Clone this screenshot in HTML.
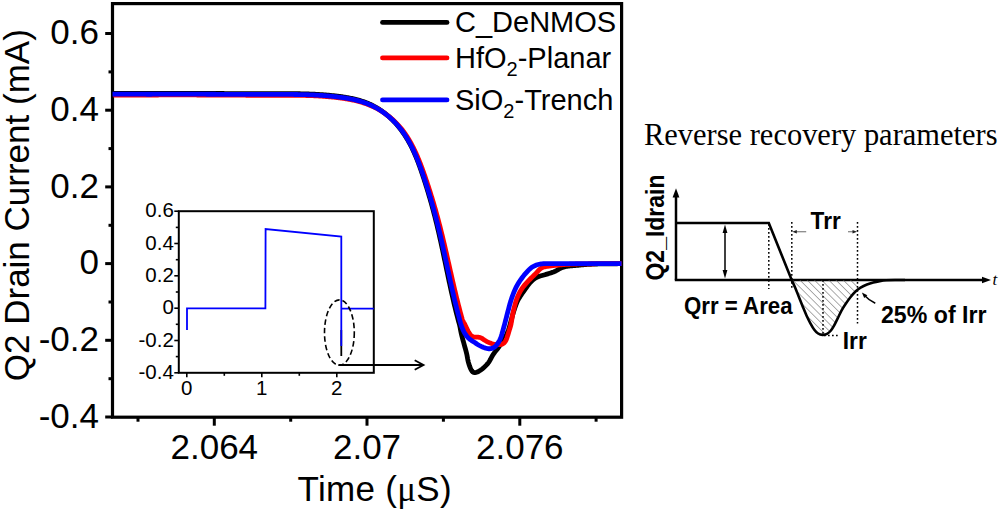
<!DOCTYPE html>
<html><head><meta charset="utf-8"><style>
html,body{margin:0;padding:0;background:#fff;}
svg{display:block;}
</style></head><body>
<svg width="1000" height="511" viewBox="0 0 1000 511">
<rect width="1000" height="511" fill="#fff"/>
<rect x="112.5" y="3.6" width="509.1" height="413.6" fill="none" stroke="#000" stroke-width="3.2"/>
<line x1="105.2" y1="33.5" x2="112.5" y2="33.5" stroke="#000" stroke-width="3"/>
<line x1="108.5" y1="71.9" x2="112.5" y2="71.9" stroke="#000" stroke-width="3"/>
<line x1="105.2" y1="110.2" x2="112.5" y2="110.2" stroke="#000" stroke-width="3"/>
<line x1="108.5" y1="148.6" x2="112.5" y2="148.6" stroke="#000" stroke-width="3"/>
<line x1="105.2" y1="186.9" x2="112.5" y2="186.9" stroke="#000" stroke-width="3"/>
<line x1="108.5" y1="225.3" x2="112.5" y2="225.3" stroke="#000" stroke-width="3"/>
<line x1="105.2" y1="263.6" x2="112.5" y2="263.6" stroke="#000" stroke-width="3"/>
<line x1="108.5" y1="302.0" x2="112.5" y2="302.0" stroke="#000" stroke-width="3"/>
<line x1="105.2" y1="340.3" x2="112.5" y2="340.3" stroke="#000" stroke-width="3"/>
<line x1="108.5" y1="378.7" x2="112.5" y2="378.7" stroke="#000" stroke-width="3"/>
<line x1="105.2" y1="417.0" x2="112.5" y2="417.0" stroke="#000" stroke-width="3"/>
<text x="99" y="44.2" font-family="Liberation Sans, sans-serif" font-size="35" text-anchor="end">0.6</text>
<text x="99" y="120.9" font-family="Liberation Sans, sans-serif" font-size="35" text-anchor="end">0.4</text>
<text x="99" y="197.6" font-family="Liberation Sans, sans-serif" font-size="35" text-anchor="end">0.2</text>
<text x="99" y="274.3" font-family="Liberation Sans, sans-serif" font-size="35" text-anchor="end">0</text>
<text x="99" y="351.0" font-family="Liberation Sans, sans-serif" font-size="35" text-anchor="end">-0.2</text>
<text x="99" y="427.7" font-family="Liberation Sans, sans-serif" font-size="35" text-anchor="end">-0.4</text>
<line x1="138.0" y1="417.2" x2="138.0" y2="421.7" stroke="#000" stroke-width="3"/>
<line x1="214.3" y1="417.2" x2="214.3" y2="425.7" stroke="#000" stroke-width="3"/>
<line x1="290.7" y1="417.2" x2="290.7" y2="421.7" stroke="#000" stroke-width="3"/>
<line x1="367.0" y1="417.2" x2="367.0" y2="425.7" stroke="#000" stroke-width="3"/>
<line x1="443.4" y1="417.2" x2="443.4" y2="421.7" stroke="#000" stroke-width="3"/>
<line x1="519.8" y1="417.2" x2="519.8" y2="425.7" stroke="#000" stroke-width="3"/>
<line x1="596.1" y1="417.2" x2="596.1" y2="421.7" stroke="#000" stroke-width="3"/>
<text x="214.3" y="459" font-family="Liberation Sans, sans-serif" font-size="35" text-anchor="middle">2.064</text>
<text x="367.0" y="459" font-family="Liberation Sans, sans-serif" font-size="35" text-anchor="middle">2.07</text>
<text x="519.8" y="459" font-family="Liberation Sans, sans-serif" font-size="35" text-anchor="middle">2.076</text>
<text x="374.6" y="500.8" font-family="Liberation Sans, sans-serif" font-size="35" text-anchor="middle" textLength="154" lengthAdjust="spacing">Time (<tspan font-family="Liberation Serif, serif">μ</tspan>S)</text>
<text transform="translate(29.3,205.2) rotate(-90)" font-family="Liberation Sans, sans-serif" font-size="35" text-anchor="middle">Q2 Drain Current (mA)</text>
<g fill="none" stroke-width="4.8" stroke-linejoin="round" stroke-linecap="butt">
<path d="M112.10,93.40 L113.10,93.40 L114.10,93.40 L115.10,93.40 L116.10,93.40 L117.10,93.40 L118.10,93.40 L119.10,93.41 L120.10,93.41 L121.10,93.41 L122.10,93.41 L123.10,93.41 L124.10,93.41 L125.10,93.41 L126.10,93.41 L127.10,93.41 L128.10,93.41 L129.10,93.41 L130.10,93.41 L131.10,93.41 L132.10,93.42 L133.10,93.42 L134.10,93.42 L135.10,93.42 L136.10,93.42 L137.10,93.42 L138.10,93.42 L139.10,93.42 L140.10,93.42 L141.10,93.42 L142.10,93.42 L143.10,93.42 L144.10,93.42 L145.10,93.42 L146.10,93.43 L147.10,93.43 L148.10,93.43 L149.10,93.43 L150.10,93.43 L151.05,93.43 L151.85,93.42 L152.37,93.42 L152.73,93.41 L153.21,93.40 L153.97,93.40 L154.90,93.39 L155.89,93.38 L156.89,93.38 L157.89,93.37 L158.89,93.37 L159.89,93.36 L160.89,93.36 L161.89,93.35 L162.89,93.35 L163.89,93.35 L164.89,93.34 L165.89,93.34 L166.89,93.34 L167.89,93.34 L168.89,93.34 L169.89,93.33 L170.89,93.33 L171.89,93.33 L172.89,93.33 L173.89,93.33 L174.89,93.33 L175.89,93.33 L176.89,93.33 L177.89,93.33 L178.89,93.33 L179.89,93.33 L180.89,93.34 L181.89,93.34 L182.89,93.34 L183.89,93.34 L184.89,93.34 L185.89,93.35 L186.89,93.35 L187.89,93.35 L188.89,93.35 L189.89,93.36 L190.89,93.36 L191.89,93.36 L192.89,93.37 L193.89,93.37 L194.89,93.37 L195.89,93.38 L196.89,93.38 L197.89,93.39 L198.89,93.39 L199.89,93.40 L200.89,93.40 L201.89,93.41 L202.89,93.41 L203.89,93.42 L204.89,93.42 L205.89,93.43 L206.89,93.43 L207.89,93.44 L208.89,93.44 L209.89,93.45 L210.89,93.45 L211.89,93.46 L212.89,93.46 L213.89,93.47 L214.89,93.47 L215.89,93.48 L216.89,93.49 L217.89,93.49 L218.89,93.50 L219.89,93.50 L220.89,93.51 L221.89,93.51 L222.89,93.52 L223.89,93.52 L224.89,93.53 L225.89,93.54 L226.89,93.54 L227.89,93.55 L228.89,93.55 L229.89,93.56 L230.89,93.56 L231.89,93.57 L232.89,93.57 L233.89,93.58 L234.89,93.58 L235.89,93.59 L236.89,93.59 L237.89,93.60 L238.89,93.60 L239.89,93.61 L240.89,93.61 L241.89,93.61 L242.89,93.62 L243.89,93.62 L244.89,93.63 L245.89,93.63 L246.89,93.63 L247.89,93.64 L248.89,93.64 L249.89,93.64 L250.89,93.64 L251.89,93.65 L252.89,93.65 L253.89,93.65 L254.89,93.65 L255.89,93.66 L256.89,93.66 L257.89,93.66 L258.89,93.66 L259.89,93.66 L260.89,93.66 L261.89,93.66 L262.89,93.66 L263.89,93.66 L264.89,93.66 L265.89,93.66 L266.89,93.66 L267.89,93.66 L268.89,93.66 L269.89,93.66 L270.89,93.65 L271.89,93.65 L272.89,93.65 L273.89,93.65 L274.89,93.65 L275.89,93.64 L276.89,93.64 L277.89,93.64 L278.89,93.64 L279.89,93.64 L280.89,93.64 L281.89,93.63 L282.89,93.63 L283.89,93.63 L284.89,93.64 L285.89,93.64 L286.89,93.64 L287.89,93.64 L288.89,93.65 L289.89,93.65 L290.89,93.66 L291.89,93.66 L292.89,93.67 L293.89,93.68 L294.89,93.69 L295.89,93.70 L296.89,93.72 L297.89,93.73 L298.89,93.75 L299.89,93.77 L300.89,93.78 L301.89,93.81 L302.89,93.83 L303.89,93.85 L304.89,93.88 L305.89,93.91 L306.89,93.94 L307.89,93.97 L308.89,94.00 L309.89,94.04 L310.89,94.08 L311.89,94.12 L312.88,94.16 L313.88,94.21 L314.88,94.26 L315.88,94.31 L316.88,94.36 L317.88,94.42 L318.88,94.48 L319.87,94.54 L320.87,94.61 L321.87,94.67 L322.87,94.75 L323.86,94.82 L324.86,94.90 L325.86,94.98 L326.85,95.06 L327.85,95.15 L328.85,95.24 L329.84,95.33 L330.84,95.43 L331.83,95.53 L332.83,95.63 L333.82,95.74 L334.82,95.85 L335.81,95.96 L336.80,96.08 L337.79,96.21 L338.79,96.33 L339.78,96.46 L340.77,96.60 L341.76,96.74 L342.75,96.89 L343.74,97.04 L344.72,97.19 L345.71,97.35 L346.70,97.52 L347.68,97.70 L348.66,97.88 L349.65,98.06 L350.63,98.26 L351.61,98.46 L352.58,98.67 L353.56,98.89 L354.53,99.11 L355.51,99.35 L356.48,99.59 L357.44,99.84 L358.41,100.11 L359.37,100.38 L360.33,100.66 L361.29,100.95 L362.24,101.25 L363.19,101.56 L364.14,101.89 L365.08,102.22 L366.02,102.57 L366.95,102.93 L367.88,103.30 L368.80,103.68 L369.72,104.08 L370.63,104.49 L371.53,104.92 L372.43,105.36 L373.32,105.82 L374.20,106.28 L375.08,106.76 L375.95,107.26 L376.82,107.76 L377.67,108.28 L378.52,108.80 L379.36,109.34 L380.20,109.89 L381.03,110.45 L381.85,111.02 L382.66,111.60 L383.47,112.19 L384.27,112.80 L385.06,113.41 L385.84,114.03 L386.62,114.66 L387.38,115.30 L388.14,115.95 L388.89,116.61 L389.64,117.28 L390.37,117.96 L391.10,118.64 L391.82,119.34 L392.53,120.04 L393.23,120.75 L393.93,121.47 L394.61,122.20 L395.29,122.94 L395.96,123.68 L396.62,124.43 L397.27,125.19 L397.91,125.96 L398.55,126.73 L399.17,127.51 L399.79,128.30 L400.39,129.09 L401.00,129.89 L401.59,130.69 L402.18,131.50 L402.77,132.31 L403.34,133.13 L403.91,133.96 L404.46,134.79 L405.01,135.62 L405.55,136.46 L406.09,137.31 L406.61,138.16 L407.13,139.02 L407.64,139.88 L408.14,140.74 L408.63,141.61 L409.12,142.48 L409.60,143.36 L410.07,144.24 L410.54,145.13 L410.99,146.02 L411.45,146.91 L411.89,147.80 L412.33,148.70 L412.76,149.61 L413.19,150.51 L413.60,151.42 L414.01,152.33 L414.42,153.25 L414.82,154.16 L415.21,155.08 L415.60,156.00 L415.98,156.93 L416.36,157.85 L416.74,158.78 L417.11,159.71 L417.47,160.64 L417.83,161.57 L418.19,162.51 L418.54,163.44 L418.89,164.38 L419.24,165.32 L419.58,166.26 L419.92,167.20 L420.25,168.14 L420.59,169.08 L420.92,170.03 L421.24,170.97 L421.57,171.92 L421.89,172.86 L422.21,173.81 L422.53,174.76 L422.85,175.71 L423.16,176.66 L423.47,177.61 L423.79,178.56 L424.09,179.51 L424.40,180.46 L424.71,181.41 L425.01,182.36 L425.32,183.32 L425.62,184.27 L425.92,185.22 L426.22,186.18 L426.51,187.13 L426.81,188.09 L427.10,189.04 L427.40,190.00 L427.69,190.96 L427.97,191.91 L428.26,192.87 L428.55,193.83 L428.83,194.79 L429.11,195.75 L429.39,196.71 L429.67,197.67 L429.95,198.63 L430.23,199.59 L430.50,200.55 L430.78,201.51 L431.05,202.48 L431.32,203.44 L431.58,204.40 L431.85,205.37 L432.12,206.33 L432.38,207.30 L432.64,208.26 L432.90,209.23 L433.16,210.19 L433.42,211.16 L433.67,212.13 L433.93,213.09 L434.18,214.06 L434.43,215.03 L434.68,216.00 L434.93,216.97 L435.17,217.94 L435.42,218.91 L435.66,219.88 L435.90,220.85 L436.14,221.82 L436.38,222.79 L436.62,223.76 L436.85,224.73 L437.09,225.70 L437.32,226.68 L437.55,227.65 L437.78,228.62 L438.01,229.60 L438.24,230.57 L438.46,231.54 L438.69,232.52 L438.91,233.49 L439.13,234.47 L439.35,235.44 L439.57,236.42 L439.79,237.39 L440.01,238.37 L440.23,239.35 L440.45,240.32 L440.66,241.30 L440.88,242.28 L441.09,243.25 L441.30,244.23 L441.51,245.21 L441.73,246.18 L441.94,247.16 L442.15,248.14 L442.36,249.12 L442.57,250.09 L442.77,251.07 L442.98,252.05 L443.19,253.03 L443.40,254.01 L443.60,254.99 L443.81,255.96 L444.01,256.94 L444.22,257.92 L444.42,258.90 L444.63,259.88 L444.83,260.86 L445.04,261.84 L445.24,262.82 L445.45,263.79 L445.65,264.77 L445.86,265.75 L446.06,266.73 L446.26,267.71 L446.47,268.69 L446.67,269.67 L446.88,270.65 L447.08,271.63 L447.29,272.60 L447.49,273.58 L447.70,274.56 L447.90,275.54 L448.11,276.52 L448.31,277.50 L448.52,278.48 L448.73,279.45 L448.94,280.43 L449.14,281.41 L449.35,282.39 L449.56,283.37 L449.77,284.34 L449.98,285.32 L450.19,286.30 L450.41,287.28 L450.62,288.25 L450.83,289.23 L451.05,290.21 L451.26,291.18 L451.48,292.16 L451.70,293.14 L451.91,294.11 L452.13,295.09 L452.35,296.06 L452.57,297.04 L452.80,298.01 L453.02,298.99 L453.24,299.96 L453.47,300.94 L453.70,301.91 L453.92,302.89 L454.15,303.86 L454.38,304.83 L454.62,305.80 L454.85,306.78 L455.09,307.75 L455.32,308.72 L455.56,309.69 L455.80,310.66 L456.04,311.63 L456.28,312.60 L456.53,313.57 L456.77,314.54 L457.02,315.51 L457.27,316.48 L457.52,317.45 L457.78,318.41 L458.03,319.38 L458.29,320.35 L458.55,321.31 L458.82,322.28 L459.08,323.24 L459.35,324.20 L459.60,325.17 L459.82,326.15 L460.01,327.12 L460.20,328.11 L460.38,329.09 L460.57,330.07 L460.76,331.05 L460.96,332.03 L461.17,333.01 L461.39,333.99 L461.62,334.96 L461.86,335.93 L462.11,336.90 L462.36,337.87 L462.62,338.83 L462.88,339.80 L463.15,340.76 L463.41,341.73 L463.68,342.69 L463.94,343.65 L464.21,344.62 L464.47,345.58 L464.74,346.55 L465.01,347.51 L465.28,348.47 L465.55,349.44 L465.81,350.40 L466.08,351.37 L466.33,352.33 L466.57,353.30 L466.79,354.28 L466.99,355.26 L467.18,356.24 L467.35,357.22 L467.53,358.21 L467.70,359.19 L467.90,360.17 L468.11,361.15 L468.35,362.12 L468.62,363.08 L468.91,364.04 L469.21,364.99 L469.53,365.94 L469.88,366.88 L470.25,367.80 L470.65,368.72 L471.09,369.61 L471.58,370.48 L472.14,371.28 L472.81,371.95 L473.61,372.41 L474.52,372.59 L475.47,372.54 L476.42,372.31 L477.35,371.97 L478.25,371.54 L479.12,371.07 L479.97,370.54 L480.80,369.98 L481.61,369.39 L482.39,368.78 L483.17,368.14 L483.92,367.49 L484.66,366.81 L485.38,366.12 L486.09,365.41 L486.77,364.69 L487.43,363.94 L488.06,363.16 L488.65,362.36 L489.20,361.52 L489.72,360.67 L490.21,359.80 L490.68,358.92 L491.14,358.03 L491.61,357.15 L492.08,356.27 L492.58,355.40 L493.11,354.55 L493.67,353.73 L494.26,352.92 L494.87,352.13 L495.49,351.35 L496.13,350.57 L496.75,349.80 L497.37,349.01 L497.97,348.21 L498.54,347.39 L499.10,346.56 L499.65,345.72 L500.19,344.88 L500.72,344.04 L501.25,343.19 L501.79,342.35 L502.33,341.50 L502.88,340.67 L503.43,339.83 L503.98,339.00 L504.51,338.15 L505.03,337.29 L505.52,336.43 L506.00,335.55 L506.46,334.66 L506.90,333.76 L507.32,332.86 L507.72,331.94 L508.10,331.02 L508.45,330.08 L508.77,329.13 L509.07,328.18 L509.35,327.22 L509.62,326.26 L509.87,325.29 L510.13,324.32 L510.38,323.36 L510.63,322.39 L510.89,321.42 L511.15,320.46 L511.41,319.49 L511.67,318.53 L511.93,317.56 L512.19,316.59 L512.46,315.63 L512.72,314.67 L513.00,313.71 L513.28,312.75 L513.58,311.79 L513.88,310.84 L514.19,309.89 L514.51,308.94 L514.84,308.00 L515.18,307.05 L515.51,306.11 L515.84,305.17 L516.18,304.23 L516.53,303.29 L516.91,302.37 L517.31,301.45 L517.75,300.55 L518.22,299.67 L518.71,298.80 L519.22,297.94 L519.75,297.10 L520.30,296.26 L520.85,295.42 L521.41,294.59 L521.97,293.77 L522.54,292.95 L523.11,292.13 L523.68,291.31 L524.26,290.49 L524.83,289.67 L525.41,288.85 L525.99,288.04 L526.58,287.23 L527.17,286.42 L527.77,285.62 L528.38,284.83 L529.00,284.05 L529.64,283.28 L530.30,282.53 L530.98,281.79 L531.68,281.08 L532.41,280.40 L533.16,279.74 L533.94,279.12 L534.74,278.53 L535.58,277.98 L536.44,277.48 L537.33,277.04 L538.25,276.67 L539.20,276.35 L540.16,276.07 L541.12,275.79 L542.08,275.51 L543.04,275.23 L544.00,274.96 L544.96,274.69 L545.93,274.41 L546.89,274.14 L547.85,273.85 L548.80,273.56 L549.75,273.26 L550.71,272.95 L551.65,272.64 L552.60,272.31 L553.54,271.97 L554.47,271.60 L555.38,271.20 L556.27,270.74 L557.12,270.23 L557.97,269.70 L558.81,269.17 L559.68,268.68 L560.57,268.24 L561.49,267.84 L562.42,267.49 L563.37,267.17 L564.33,266.88 L565.30,266.64 L566.27,266.43 L567.26,266.26 L568.25,266.13 L569.24,266.01 L570.24,265.92 L571.23,265.84 L572.23,265.77 L573.23,265.70 L574.23,265.64 L575.22,265.56 L576.22,265.48 L577.21,265.38 L578.21,265.27 L579.20,265.16 L580.20,265.05 L581.19,264.94 L582.18,264.84 L583.18,264.75 L584.18,264.67 L585.17,264.59 L586.17,264.53 L587.17,264.46 L588.17,264.40 L589.17,264.34 L590.16,264.29 L591.16,264.24 L592.16,264.19 L593.16,264.14 L594.16,264.10 L595.16,264.06 L596.16,264.02 L597.16,263.98 L598.16,263.95 L599.16,263.92 L600.16,263.90 L601.16,263.88 L602.16,263.86 L603.16,263.84 L604.16,263.83 L605.16,263.81 L606.16,263.80 L607.16,263.79 L608.16,263.78 L609.16,263.78 L610.16,263.77 L611.16,263.76 L612.16,263.75 L613.16,263.75 L614.16,263.74 L615.16,263.74 L616.16,263.73 L617.16,263.73 L618.15,263.72 L619.15,263.72 L620.15,263.71 L621.14,263.70 L621.60,263.70" stroke="#000"/>
<path d="M113.30,95.00 L114.30,95.00 L115.30,95.00 L116.30,95.00 L117.30,95.00 L118.30,95.00 L119.30,95.00 L120.30,95.01 L121.30,95.01 L122.30,95.01 L123.30,95.01 L124.30,95.01 L125.30,95.01 L126.30,95.01 L127.30,95.01 L128.30,95.01 L129.30,95.01 L130.30,95.01 L131.30,95.01 L132.30,95.01 L133.30,95.02 L134.30,95.02 L135.30,95.02 L136.30,95.02 L137.30,95.02 L138.30,95.02 L139.30,95.02 L140.30,95.02 L141.30,95.02 L142.30,95.02 L143.30,95.02 L144.30,95.02 L145.30,95.02 L146.30,95.02 L147.30,95.03 L148.30,95.03 L149.30,95.03 L150.30,95.03 L151.30,95.03 L152.25,95.03 L153.05,95.02 L153.57,95.02 L153.93,95.01 L154.41,95.00 L155.17,95.00 L156.10,94.99 L157.09,94.98 L158.09,94.98 L159.09,94.97 L160.09,94.97 L161.09,94.96 L162.09,94.96 L163.09,94.95 L164.09,94.95 L165.09,94.95 L166.09,94.94 L167.09,94.94 L168.09,94.94 L169.09,94.94 L170.09,94.94 L171.09,94.93 L172.09,94.93 L173.09,94.93 L174.09,94.93 L175.09,94.93 L176.09,94.93 L177.09,94.93 L178.09,94.93 L179.09,94.93 L180.09,94.93 L181.09,94.93 L182.09,94.94 L183.09,94.94 L184.09,94.94 L185.09,94.94 L186.09,94.94 L187.09,94.95 L188.09,94.95 L189.09,94.95 L190.09,94.95 L191.09,94.96 L192.09,94.96 L193.09,94.96 L194.09,94.97 L195.09,94.97 L196.09,94.97 L197.09,94.98 L198.09,94.98 L199.09,94.99 L200.09,94.99 L201.09,95.00 L202.09,95.00 L203.09,95.01 L204.09,95.01 L205.09,95.02 L206.09,95.02 L207.09,95.03 L208.09,95.03 L209.09,95.04 L210.09,95.04 L211.09,95.05 L212.09,95.05 L213.09,95.06 L214.09,95.06 L215.09,95.07 L216.09,95.07 L217.09,95.08 L218.09,95.09 L219.09,95.09 L220.09,95.10 L221.09,95.10 L222.09,95.11 L223.09,95.11 L224.09,95.12 L225.09,95.12 L226.09,95.13 L227.09,95.14 L228.09,95.14 L229.09,95.15 L230.09,95.15 L231.09,95.16 L232.09,95.16 L233.09,95.17 L234.09,95.17 L235.09,95.18 L236.09,95.18 L237.09,95.19 L238.09,95.19 L239.09,95.20 L240.09,95.20 L241.09,95.21 L242.09,95.21 L243.09,95.21 L244.09,95.22 L245.09,95.22 L246.09,95.23 L247.09,95.23 L248.09,95.23 L249.09,95.24 L250.09,95.24 L251.09,95.24 L252.09,95.24 L253.09,95.25 L254.09,95.25 L255.09,95.25 L256.09,95.25 L257.09,95.26 L258.09,95.26 L259.09,95.26 L260.09,95.26 L261.09,95.26 L262.09,95.26 L263.09,95.26 L264.09,95.26 L265.09,95.26 L266.09,95.26 L267.09,95.26 L268.09,95.26 L269.09,95.26 L270.09,95.26 L271.09,95.26 L272.09,95.25 L273.09,95.25 L274.09,95.25 L275.09,95.25 L276.09,95.25 L277.09,95.24 L278.09,95.24 L279.09,95.24 L280.09,95.24 L281.09,95.24 L282.09,95.24 L283.09,95.23 L284.09,95.23 L285.09,95.23 L286.09,95.24 L287.09,95.24 L288.09,95.24 L289.09,95.24 L290.09,95.25 L291.09,95.25 L292.09,95.26 L293.09,95.26 L294.09,95.27 L295.09,95.28 L296.09,95.29 L297.09,95.30 L298.09,95.32 L299.09,95.33 L300.09,95.35 L301.09,95.37 L302.09,95.38 L303.09,95.41 L304.09,95.43 L305.09,95.45 L306.09,95.48 L307.09,95.51 L308.09,95.54 L309.09,95.57 L310.09,95.60 L311.09,95.64 L312.09,95.68 L313.09,95.72 L314.08,95.76 L315.08,95.81 L316.08,95.86 L317.08,95.91 L318.08,95.96 L319.08,96.02 L320.08,96.08 L321.07,96.14 L322.07,96.21 L323.07,96.27 L324.07,96.35 L325.06,96.42 L326.06,96.50 L327.06,96.58 L328.05,96.66 L329.05,96.75 L330.05,96.84 L331.04,96.93 L332.04,97.03 L333.03,97.13 L334.03,97.23 L335.02,97.34 L336.02,97.45 L337.01,97.56 L338.00,97.68 L338.99,97.81 L339.99,97.93 L340.98,98.06 L341.97,98.20 L342.96,98.34 L343.95,98.49 L344.94,98.64 L345.92,98.79 L346.91,98.95 L347.90,99.12 L348.88,99.30 L349.86,99.48 L350.85,99.66 L351.83,99.86 L352.81,100.06 L353.78,100.27 L354.76,100.49 L355.73,100.71 L356.71,100.95 L357.68,101.19 L358.64,101.44 L359.61,101.71 L360.57,101.98 L361.53,102.26 L362.49,102.55 L363.44,102.85 L364.39,103.16 L365.34,103.49 L366.28,103.82 L367.22,104.17 L368.15,104.53 L369.08,104.90 L370.00,105.28 L370.92,105.67 L371.84,106.07 L372.75,106.48 L373.66,106.90 L374.56,107.33 L375.45,107.78 L376.34,108.24 L377.23,108.71 L378.10,109.19 L378.97,109.68 L379.84,110.19 L380.69,110.70 L381.54,111.23 L382.39,111.76 L383.23,112.31 L384.06,112.86 L384.88,113.43 L385.70,114.01 L386.50,114.60 L387.31,115.19 L388.10,115.80 L388.89,116.42 L389.67,117.05 L390.44,117.68 L391.20,118.33 L391.96,118.98 L392.70,119.65 L393.44,120.32 L394.18,121.00 L394.90,121.69 L395.61,122.39 L396.32,123.10 L397.02,123.81 L397.71,124.54 L398.39,125.27 L399.06,126.01 L399.72,126.76 L400.38,127.52 L401.02,128.28 L401.66,129.05 L402.28,129.83 L402.89,130.63 L403.49,131.43 L404.08,132.23 L404.66,133.05 L405.23,133.87 L405.80,134.69 L406.35,135.53 L406.90,136.36 L407.43,137.21 L407.97,138.05 L408.49,138.91 L409.00,139.76 L409.51,140.63 L410.01,141.49 L410.50,142.36 L410.99,143.24 L411.47,144.11 L411.94,145.00 L412.40,145.88 L412.86,146.77 L413.31,147.66 L413.76,148.56 L414.20,149.45 L414.63,150.36 L415.06,151.26 L415.48,152.17 L415.90,153.08 L416.31,153.99 L416.72,154.90 L417.12,155.82 L417.51,156.73 L417.90,157.66 L418.29,158.58 L418.67,159.50 L419.05,160.43 L419.42,161.36 L419.79,162.28 L420.16,163.21 L420.52,164.15 L420.88,165.08 L421.23,166.02 L421.59,166.95 L421.93,167.89 L422.28,168.83 L422.62,169.77 L422.96,170.71 L423.30,171.65 L423.64,172.59 L423.97,173.53 L424.30,174.48 L424.63,175.42 L424.96,176.37 L425.28,177.31 L425.61,178.26 L425.93,179.20 L426.25,180.15 L426.57,181.10 L426.89,182.05 L427.20,183.00 L427.52,183.95 L427.83,184.89 L428.14,185.84 L428.45,186.80 L428.76,187.75 L429.07,188.70 L429.37,189.65 L429.68,190.60 L429.98,191.56 L430.28,192.51 L430.58,193.47 L430.87,194.42 L431.17,195.38 L431.46,196.33 L431.76,197.29 L432.05,198.24 L432.34,199.20 L432.63,200.16 L432.91,201.12 L433.20,202.07 L433.49,203.03 L433.77,203.99 L434.05,204.95 L434.33,205.91 L434.61,206.87 L434.89,207.83 L435.17,208.79 L435.44,209.75 L435.71,210.72 L435.98,211.68 L436.25,212.64 L436.52,213.61 L436.79,214.57 L437.05,215.53 L437.32,216.50 L437.58,217.46 L437.84,218.43 L438.10,219.39 L438.36,220.36 L438.61,221.33 L438.87,222.29 L439.12,223.26 L439.37,224.23 L439.62,225.20 L439.87,226.17 L440.12,227.14 L440.37,228.10 L440.61,229.07 L440.85,230.04 L441.10,231.01 L441.34,231.98 L441.58,232.96 L441.81,233.93 L442.05,234.90 L442.29,235.87 L442.52,236.84 L442.76,237.81 L442.99,238.79 L443.22,239.76 L443.46,240.73 L443.69,241.70 L443.92,242.68 L444.14,243.65 L444.37,244.62 L444.60,245.60 L444.83,246.57 L445.05,247.55 L445.28,248.52 L445.50,249.50 L445.73,250.47 L445.95,251.44 L446.18,252.42 L446.40,253.39 L446.62,254.37 L446.84,255.34 L447.06,256.32 L447.29,257.29 L447.51,258.27 L447.73,259.25 L447.95,260.22 L448.17,261.20 L448.39,262.17 L448.61,263.15 L448.83,264.12 L449.05,265.10 L449.27,266.07 L449.49,267.05 L449.71,268.02 L449.93,269.00 L450.15,269.98 L450.37,270.95 L450.59,271.93 L450.81,272.90 L451.03,273.88 L451.25,274.85 L451.47,275.83 L451.69,276.80 L451.92,277.78 L452.14,278.75 L452.36,279.73 L452.59,280.70 L452.81,281.68 L453.03,282.65 L453.26,283.63 L453.48,284.60 L453.71,285.57 L453.94,286.55 L454.17,287.52 L454.39,288.49 L454.62,289.47 L454.85,290.44 L455.09,291.41 L455.32,292.39 L455.55,293.36 L455.78,294.33 L456.02,295.30 L456.25,296.28 L456.49,297.25 L456.73,298.22 L456.97,299.19 L457.21,300.16 L457.45,301.13 L457.69,302.10 L457.94,303.07 L458.18,304.04 L458.43,305.01 L458.68,305.98 L458.93,306.95 L459.18,307.91 L459.43,308.88 L459.68,309.85 L459.94,310.82 L460.19,311.78 L460.45,312.75 L460.71,313.71 L460.97,314.68 L461.24,315.64 L461.50,316.61 L461.76,317.57 L462.01,318.54 L462.29,319.50 L462.63,320.43 L463.06,321.31 L463.56,322.17 L464.09,323.02 L464.59,323.88 L465.04,324.77 L465.47,325.67 L465.89,326.58 L466.30,327.49 L466.72,328.40 L467.16,329.30 L467.61,330.19 L468.07,331.08 L468.55,331.96 L469.04,332.83 L469.56,333.68 L470.14,334.49 L470.78,335.23 L471.52,335.88 L472.34,336.42 L473.23,336.81 L474.18,337.05 L475.15,337.14 L476.14,337.13 L477.13,337.10 L478.12,337.13 L479.10,337.27 L480.06,337.51 L480.98,337.87 L481.86,338.32 L482.70,338.85 L483.52,339.42 L484.34,339.99 L485.18,340.53 L486.04,341.04 L486.91,341.52 L487.80,341.97 L488.71,342.39 L489.63,342.77 L490.57,343.12 L491.52,343.44 L492.47,343.73 L493.44,343.99 L494.41,344.22 L495.39,344.41 L496.38,344.55 L497.37,344.64 L498.37,344.67 L499.37,344.65 L500.36,344.56 L501.33,344.39 L502.27,344.11 L503.14,343.68 L503.93,343.10 L504.62,342.40 L505.22,341.62 L505.73,340.77 L506.17,339.87 L506.54,338.95 L506.88,338.01 L507.19,337.06 L507.50,336.11 L507.80,335.16 L508.10,334.20 L508.39,333.25 L508.68,332.29 L508.97,331.33 L509.25,330.37 L509.54,329.42 L509.84,328.46 L510.13,327.50 L510.41,326.54 L510.66,325.58 L510.90,324.61 L511.12,323.63 L511.31,322.65 L511.49,321.67 L511.66,320.68 L511.82,319.69 L511.98,318.71 L512.14,317.72 L512.30,316.73 L512.47,315.75 L512.65,314.76 L512.84,313.78 L513.04,312.80 L513.25,311.82 L513.46,310.85 L513.68,309.87 L513.91,308.90 L514.14,307.92 L514.37,306.95 L514.61,305.98 L514.86,305.01 L515.12,304.05 L515.39,303.08 L515.67,302.13 L515.97,301.17 L516.28,300.22 L516.62,299.28 L516.97,298.34 L517.34,297.41 L517.72,296.49 L518.13,295.58 L518.55,294.67 L518.99,293.77 L519.44,292.88 L519.91,292.00 L520.40,291.13 L520.91,290.27 L521.43,289.42 L521.98,288.58 L522.54,287.75 L523.13,286.95 L523.74,286.16 L524.37,285.38 L525.02,284.62 L525.69,283.87 L526.36,283.13 L527.04,282.40 L527.72,281.67 L528.40,280.94 L529.09,280.21 L529.78,279.48 L530.47,278.76 L531.17,278.05 L531.87,277.34 L532.58,276.63 L533.30,275.93 L534.01,275.23 L534.73,274.54 L535.44,273.84 L536.15,273.13 L536.84,272.41 L537.53,271.68 L538.20,270.95 L538.89,270.22 L539.59,269.51 L540.33,268.84 L541.12,268.24 L541.97,267.73 L542.86,267.32 L543.80,267.00 L544.77,266.77 L545.75,266.60 L546.74,266.46 L547.73,266.33 L548.72,266.19 L549.72,266.05 L550.71,265.92 L551.70,265.80 L552.69,265.69 L553.69,265.58 L554.68,265.48 L555.68,265.38 L556.67,265.27 L557.66,265.16 L558.66,265.06 L559.65,264.95 L560.65,264.85 L561.64,264.76 L562.64,264.67 L563.64,264.60 L564.64,264.53 L565.63,264.47 L566.63,264.41 L567.63,264.35 L568.63,264.30 L569.63,264.25 L570.63,264.21 L571.63,264.17 L572.62,264.13 L573.62,264.09 L574.62,264.05 L575.62,264.02 L576.62,263.99 L577.62,263.96 L578.62,263.94 L579.62,263.91 L580.62,263.89 L581.62,263.87 L582.62,263.85 L583.62,263.83 L584.62,263.82 L585.62,263.80 L586.62,263.79 L587.62,263.78 L588.62,263.77 L589.62,263.76 L590.62,263.75 L591.62,263.75 L592.62,263.74 L593.62,263.73 L594.62,263.73 L595.62,263.72 L596.62,263.72 L597.62,263.71 L598.62,263.71 L599.62,263.70 L600.62,263.70 L601.62,263.69 L602.62,263.69 L603.62,263.69 L604.62,263.69 L605.62,263.69 L606.62,263.69 L607.62,263.69 L608.62,263.69 L609.62,263.69 L610.62,263.69 L611.62,263.69 L612.62,263.69 L613.62,263.69 L614.62,263.69 L615.62,263.69 L616.62,263.69 L617.62,263.70 L618.62,263.70 L619.62,263.70 L620.62,263.70 L621.60,263.70" stroke="#ff0000"/>
<path d="M112.50,94.20 L113.50,94.20 L114.50,94.20 L115.50,94.20 L116.50,94.20 L117.50,94.20 L118.50,94.20 L119.50,94.21 L120.50,94.21 L121.50,94.21 L122.50,94.21 L123.50,94.21 L124.50,94.21 L125.50,94.21 L126.50,94.21 L127.50,94.21 L128.50,94.21 L129.50,94.21 L130.50,94.21 L131.50,94.21 L132.50,94.22 L133.50,94.22 L134.50,94.22 L135.50,94.22 L136.50,94.22 L137.50,94.22 L138.50,94.22 L139.50,94.22 L140.50,94.22 L141.50,94.22 L142.50,94.22 L143.50,94.22 L144.50,94.22 L145.50,94.22 L146.50,94.23 L147.50,94.23 L148.50,94.23 L149.50,94.23 L150.50,94.23 L151.45,94.23 L152.25,94.22 L152.77,94.22 L153.13,94.21 L153.61,94.20 L154.37,94.20 L155.30,94.19 L156.29,94.18 L157.29,94.18 L158.29,94.17 L159.29,94.17 L160.29,94.16 L161.29,94.16 L162.29,94.15 L163.29,94.15 L164.29,94.15 L165.29,94.14 L166.29,94.14 L167.29,94.14 L168.29,94.14 L169.29,94.14 L170.29,94.13 L171.29,94.13 L172.29,94.13 L173.29,94.13 L174.29,94.13 L175.29,94.13 L176.29,94.13 L177.29,94.13 L178.29,94.13 L179.29,94.13 L180.29,94.13 L181.29,94.14 L182.29,94.14 L183.29,94.14 L184.29,94.14 L185.29,94.14 L186.29,94.15 L187.29,94.15 L188.29,94.15 L189.29,94.15 L190.29,94.16 L191.29,94.16 L192.29,94.16 L193.29,94.17 L194.29,94.17 L195.29,94.17 L196.29,94.18 L197.29,94.18 L198.29,94.19 L199.29,94.19 L200.29,94.20 L201.29,94.20 L202.29,94.21 L203.29,94.21 L204.29,94.22 L205.29,94.22 L206.29,94.23 L207.29,94.23 L208.29,94.24 L209.29,94.24 L210.29,94.25 L211.29,94.25 L212.29,94.26 L213.29,94.26 L214.29,94.27 L215.29,94.27 L216.29,94.28 L217.29,94.29 L218.29,94.29 L219.29,94.30 L220.29,94.30 L221.29,94.31 L222.29,94.31 L223.29,94.32 L224.29,94.32 L225.29,94.33 L226.29,94.34 L227.29,94.34 L228.29,94.35 L229.29,94.35 L230.29,94.36 L231.29,94.36 L232.29,94.37 L233.29,94.37 L234.29,94.38 L235.29,94.38 L236.29,94.39 L237.29,94.39 L238.29,94.40 L239.29,94.40 L240.29,94.41 L241.29,94.41 L242.29,94.41 L243.29,94.42 L244.29,94.42 L245.29,94.43 L246.29,94.43 L247.29,94.43 L248.29,94.44 L249.29,94.44 L250.29,94.44 L251.29,94.44 L252.29,94.45 L253.29,94.45 L254.29,94.45 L255.29,94.45 L256.29,94.46 L257.29,94.46 L258.29,94.46 L259.29,94.46 L260.29,94.46 L261.29,94.46 L262.29,94.46 L263.29,94.46 L264.29,94.46 L265.29,94.46 L266.29,94.46 L267.29,94.46 L268.29,94.46 L269.29,94.46 L270.29,94.46 L271.29,94.45 L272.29,94.45 L273.29,94.45 L274.29,94.45 L275.29,94.45 L276.29,94.44 L277.29,94.44 L278.29,94.44 L279.29,94.44 L280.29,94.44 L281.29,94.44 L282.29,94.43 L283.29,94.43 L284.29,94.43 L285.29,94.44 L286.29,94.44 L287.29,94.44 L288.29,94.44 L289.29,94.45 L290.29,94.45 L291.29,94.46 L292.29,94.46 L293.29,94.47 L294.29,94.48 L295.29,94.49 L296.29,94.50 L297.29,94.52 L298.29,94.53 L299.29,94.55 L300.29,94.57 L301.29,94.58 L302.29,94.61 L303.29,94.63 L304.29,94.65 L305.29,94.68 L306.29,94.71 L307.29,94.74 L308.29,94.77 L309.29,94.80 L310.29,94.84 L311.29,94.88 L312.29,94.92 L313.28,94.96 L314.28,95.01 L315.28,95.06 L316.28,95.11 L317.28,95.16 L318.28,95.22 L319.28,95.28 L320.27,95.34 L321.27,95.41 L322.27,95.47 L323.27,95.55 L324.26,95.62 L325.26,95.70 L326.26,95.78 L327.25,95.86 L328.25,95.95 L329.25,96.04 L330.24,96.13 L331.24,96.23 L332.23,96.33 L333.23,96.43 L334.22,96.54 L335.22,96.65 L336.21,96.76 L337.20,96.88 L338.19,97.01 L339.19,97.13 L340.18,97.26 L341.17,97.40 L342.16,97.54 L343.15,97.69 L344.14,97.84 L345.12,97.99 L346.11,98.15 L347.10,98.32 L348.08,98.50 L349.06,98.68 L350.05,98.86 L351.03,99.06 L352.01,99.26 L352.98,99.47 L353.96,99.69 L354.93,99.91 L355.91,100.15 L356.88,100.39 L357.84,100.64 L358.81,100.91 L359.77,101.18 L360.73,101.46 L361.69,101.75 L362.64,102.05 L363.59,102.36 L364.54,102.69 L365.48,103.02 L366.42,103.37 L367.35,103.73 L368.28,104.10 L369.20,104.48 L370.12,104.87 L371.04,105.28 L371.94,105.70 L372.85,106.13 L373.74,106.58 L374.63,107.03 L375.51,107.50 L376.39,107.98 L377.26,108.48 L378.12,108.98 L378.98,109.50 L379.83,110.02 L380.67,110.56 L381.51,111.11 L382.34,111.67 L383.16,112.24 L383.97,112.82 L384.78,113.41 L385.58,114.01 L386.37,114.62 L387.15,115.25 L387.93,115.88 L388.69,116.52 L389.45,117.17 L390.21,117.82 L390.95,118.49 L391.69,119.17 L392.41,119.86 L393.13,120.55 L393.85,121.25 L394.55,121.96 L395.24,122.68 L395.93,123.41 L396.61,124.15 L397.27,124.89 L397.93,125.64 L398.58,126.40 L399.22,127.17 L399.86,127.94 L400.48,128.72 L401.10,129.51 L401.70,130.31 L402.30,131.11 L402.88,131.92 L403.46,132.74 L404.03,133.56 L404.60,134.38 L405.15,135.22 L405.69,136.06 L406.23,136.90 L406.76,137.75 L407.28,138.60 L407.79,139.46 L408.30,140.32 L408.80,141.19 L409.29,142.06 L409.77,142.94 L410.24,143.82 L410.71,144.70 L411.17,145.59 L411.63,146.48 L412.08,147.37 L412.52,148.27 L412.96,149.17 L413.39,150.07 L413.81,150.98 L414.23,151.89 L414.64,152.80 L415.05,153.71 L415.45,154.63 L415.84,155.54 L416.24,156.46 L416.62,157.39 L417.00,158.31 L417.38,159.24 L417.75,160.17 L418.12,161.09 L418.49,162.03 L418.85,162.96 L419.20,163.89 L419.56,164.83 L419.91,165.77 L420.25,166.70 L420.60,167.64 L420.94,168.58 L421.27,169.52 L421.61,170.47 L421.94,171.41 L422.27,172.35 L422.60,173.30 L422.92,174.25 L423.24,175.19 L423.56,176.14 L423.88,177.09 L424.20,178.03 L424.52,178.98 L424.83,179.93 L425.15,180.88 L425.46,181.83 L425.77,182.78 L426.07,183.73 L426.38,184.69 L426.69,185.64 L426.99,186.59 L427.29,187.54 L427.59,188.50 L427.89,189.45 L428.19,190.41 L428.48,191.36 L428.78,192.32 L429.07,193.28 L429.36,194.23 L429.65,195.19 L429.94,196.15 L430.22,197.11 L430.51,198.06 L430.79,199.02 L431.07,199.98 L431.35,200.94 L431.63,201.90 L431.91,202.86 L432.18,203.83 L432.46,204.79 L432.73,205.75 L433.00,206.71 L433.27,207.68 L433.53,208.64 L433.80,209.60 L434.06,210.57 L434.33,211.53 L434.59,212.50 L434.85,213.46 L435.10,214.43 L435.36,215.40 L435.61,216.36 L435.87,217.33 L436.12,218.30 L436.37,219.27 L436.62,220.24 L436.87,221.21 L437.11,222.17 L437.35,223.14 L437.60,224.11 L437.84,225.08 L438.08,226.06 L438.32,227.03 L438.55,228.00 L438.79,228.97 L439.02,229.94 L439.26,230.92 L439.49,231.89 L439.72,232.86 L439.95,233.83 L440.18,234.81 L440.40,235.78 L440.63,236.76 L440.85,237.73 L441.08,238.70 L441.30,239.68 L441.52,240.65 L441.75,241.63 L441.97,242.61 L442.19,243.58 L442.40,244.56 L442.62,245.53 L442.84,246.51 L443.06,247.48 L443.27,248.46 L443.49,249.44 L443.70,250.41 L443.92,251.39 L444.13,252.37 L444.34,253.34 L444.56,254.32 L444.77,255.30 L444.98,256.28 L445.19,257.25 L445.41,258.23 L445.62,259.21 L445.83,260.19 L446.04,261.16 L446.25,262.14 L446.46,263.12 L446.67,264.10 L446.88,265.07 L447.09,266.05 L447.30,267.03 L447.51,268.01 L447.72,268.98 L447.93,269.96 L448.14,270.94 L448.35,271.92 L448.57,272.89 L448.78,273.87 L448.99,274.85 L449.20,275.83 L449.41,276.80 L449.63,277.78 L449.84,278.76 L450.05,279.73 L450.27,280.71 L450.48,281.69 L450.70,282.66 L450.91,283.64 L451.13,284.62 L451.35,285.59 L451.56,286.57 L451.78,287.55 L452.00,288.52 L452.22,289.50 L452.44,290.47 L452.66,291.45 L452.89,292.42 L453.11,293.40 L453.33,294.37 L453.56,295.35 L453.79,296.32 L454.01,297.29 L454.24,298.27 L454.47,299.24 L454.70,300.21 L454.93,301.19 L455.17,302.16 L455.40,303.13 L455.64,304.10 L455.88,305.07 L456.11,306.04 L456.35,307.02 L456.60,307.99 L456.84,308.96 L457.08,309.93 L457.33,310.89 L457.58,311.86 L457.83,312.83 L458.08,313.80 L458.33,314.77 L458.59,315.73 L458.84,316.70 L459.10,317.67 L459.36,318.63 L459.62,319.60 L459.88,320.56 L460.15,321.53 L460.41,322.49 L460.66,323.46 L460.94,324.42 L461.24,325.37 L461.59,326.30 L461.96,327.23 L462.34,328.15 L462.73,329.08 L463.13,329.99 L463.55,330.90 L463.98,331.80 L464.45,332.68 L464.95,333.55 L465.48,334.40 L466.04,335.22 L466.64,336.02 L467.28,336.78 L467.96,337.52 L468.67,338.22 L469.41,338.88 L470.19,339.50 L471.00,340.09 L471.83,340.65 L472.66,341.20 L473.51,341.74 L474.35,342.28 L475.18,342.83 L476.02,343.37 L476.86,343.92 L477.70,344.46 L478.55,344.98 L479.42,345.49 L480.29,345.96 L481.19,346.41 L482.09,346.83 L483.01,347.22 L483.94,347.59 L484.88,347.92 L485.84,348.21 L486.81,348.45 L487.79,348.63 L488.77,348.74 L489.76,348.75 L490.75,348.66 L491.71,348.45 L492.64,348.12 L493.53,347.69 L494.37,347.16 L495.15,346.54 L495.86,345.85 L496.52,345.11 L497.14,344.32 L497.72,343.51 L498.26,342.67 L498.77,341.81 L499.25,340.94 L499.70,340.05 L500.11,339.14 L500.50,338.21 L500.86,337.28 L501.20,336.34 L501.51,335.39 L501.80,334.44 L502.07,333.47 L502.34,332.51 L502.60,331.55 L502.87,330.58 L503.14,329.62 L503.41,328.66 L503.68,327.69 L503.94,326.73 L504.21,325.76 L504.46,324.80 L504.72,323.83 L504.97,322.86 L505.22,321.90 L505.47,320.93 L505.72,319.96 L505.96,318.99 L506.21,318.02 L506.46,317.05 L506.70,316.08 L506.95,315.11 L507.20,314.14 L507.46,313.18 L507.71,312.21 L507.97,311.24 L508.22,310.28 L508.48,309.31 L508.73,308.34 L508.98,307.37 L509.24,306.41 L509.50,305.44 L509.76,304.48 L510.03,303.51 L510.30,302.55 L510.58,301.59 L510.88,300.64 L511.18,299.68 L511.50,298.74 L511.82,297.79 L512.15,296.85 L512.49,295.91 L512.84,294.97 L513.19,294.03 L513.55,293.10 L513.92,292.17 L514.31,291.25 L514.70,290.33 L515.11,289.42 L515.53,288.51 L515.96,287.61 L516.42,286.72 L516.88,285.83 L517.37,284.96 L517.87,284.09 L518.39,283.24 L518.92,282.39 L519.46,281.55 L520.01,280.72 L520.58,279.90 L521.16,279.08 L521.74,278.27 L522.34,277.46 L522.94,276.67 L523.56,275.88 L524.19,275.10 L524.82,274.33 L525.47,273.57 L526.12,272.81 L526.79,272.07 L527.46,271.33 L528.15,270.60 L528.85,269.88 L529.56,269.19 L530.31,268.52 L531.08,267.89 L531.89,267.31 L532.73,266.78 L533.60,266.29 L534.50,265.85 L535.41,265.44 L536.34,265.08 L537.29,264.77 L538.25,264.49 L539.22,264.25 L540.19,264.05 L541.18,263.89 L542.17,263.77 L543.17,263.69 L544.17,263.64 L545.16,263.61 L546.16,263.58 L547.16,263.57 L548.16,263.56 L549.16,263.56 L550.16,263.57 L551.16,263.58 L552.16,263.58 L553.16,263.59 L554.16,263.59 L555.16,263.59 L556.16,263.60 L557.16,263.60 L558.16,263.60 L559.16,263.60 L560.16,263.60 L561.16,263.60 L562.16,263.60 L563.16,263.60 L564.16,263.60 L565.16,263.60 L566.16,263.60 L567.16,263.60 L568.16,263.60 L569.16,263.60 L570.16,263.60 L571.16,263.60 L572.16,263.60 L573.16,263.60 L574.16,263.60 L575.16,263.60 L576.16,263.60 L577.16,263.60 L578.16,263.60 L579.16,263.60 L580.16,263.60 L581.16,263.60 L582.16,263.60 L583.16,263.60 L584.16,263.60 L585.16,263.60 L586.16,263.60 L587.16,263.60 L588.16,263.60 L589.16,263.60 L590.16,263.60 L591.16,263.60 L592.16,263.60 L593.16,263.60 L594.16,263.60 L595.16,263.60 L596.16,263.60 L597.16,263.60 L598.16,263.60 L599.16,263.60 L600.16,263.60 L601.16,263.60 L602.16,263.60 L603.16,263.60 L604.16,263.60 L605.16,263.60 L606.16,263.60 L607.16,263.60 L608.16,263.60 L609.16,263.60 L610.16,263.60 L611.16,263.60 L612.16,263.60 L613.16,263.60 L614.16,263.60 L615.16,263.60 L616.16,263.60 L617.16,263.60 L618.16,263.60 L619.16,263.60 L620.16,263.60 L621.14,263.60 L621.60,263.60" stroke="#0000ff"/>
</g>
<line x1="382.5" y1="22.4" x2="447" y2="22.4" stroke="#000" stroke-width="4.8" stroke-linecap="round"/>
<line x1="382.5" y1="57.9" x2="447" y2="57.9" stroke="#ff0000" stroke-width="4.8" stroke-linecap="round"/>
<line x1="382.5" y1="99.9" x2="447" y2="99.9" stroke="#0000ff" stroke-width="4.8" stroke-linecap="round"/>
<text x="455" y="32.1" font-family="Liberation Sans, sans-serif" font-size="29">C_DeNMOS</text>
<text x="455" y="67.7" font-family="Liberation Sans, sans-serif" font-size="29">HfO<tspan font-size="20" dy="7.8">2</tspan><tspan dy="-7.8">-Planar</tspan></text>
<text x="455" y="110.2" font-family="Liberation Sans, sans-serif" font-size="29">SiO<tspan font-size="20" dy="7.7">2</tspan><tspan dy="-7.7">-Trench</tspan></text>
<rect x="178.8" y="211.2" width="195.0" height="161.60000000000002" fill="#fff" stroke="#000" stroke-width="2"/>
<line x1="174.3" y1="211.2" x2="178.8" y2="211.2" stroke="#000" stroke-width="1.6"/>
<line x1="175.8" y1="227.4" x2="178.8" y2="227.4" stroke="#000" stroke-width="1.6"/>
<line x1="174.3" y1="243.5" x2="178.8" y2="243.5" stroke="#000" stroke-width="1.6"/>
<line x1="175.8" y1="259.7" x2="178.8" y2="259.7" stroke="#000" stroke-width="1.6"/>
<line x1="174.3" y1="275.8" x2="178.8" y2="275.8" stroke="#000" stroke-width="1.6"/>
<line x1="175.8" y1="292.0" x2="178.8" y2="292.0" stroke="#000" stroke-width="1.6"/>
<line x1="174.3" y1="308.2" x2="178.8" y2="308.2" stroke="#000" stroke-width="1.6"/>
<line x1="175.8" y1="324.3" x2="178.8" y2="324.3" stroke="#000" stroke-width="1.6"/>
<line x1="174.3" y1="340.5" x2="178.8" y2="340.5" stroke="#000" stroke-width="1.6"/>
<line x1="175.8" y1="356.6" x2="178.8" y2="356.6" stroke="#000" stroke-width="1.6"/>
<line x1="174.3" y1="372.8" x2="178.8" y2="372.8" stroke="#000" stroke-width="1.6"/>
<text x="173.8" y="217.2" font-family="Liberation Sans, sans-serif" font-size="20.5" text-anchor="end">0.6</text>
<text x="173.8" y="249.5" font-family="Liberation Sans, sans-serif" font-size="20.5" text-anchor="end">0.4</text>
<text x="173.8" y="281.8" font-family="Liberation Sans, sans-serif" font-size="20.5" text-anchor="end">0.2</text>
<text x="173.8" y="314.2" font-family="Liberation Sans, sans-serif" font-size="20.5" text-anchor="end">0</text>
<text x="173.8" y="346.5" font-family="Liberation Sans, sans-serif" font-size="20.5" text-anchor="end">-0.2</text>
<text x="173.8" y="378.8" font-family="Liberation Sans, sans-serif" font-size="20.5" text-anchor="end">-0.4</text>
<line x1="186.8" y1="372.8" x2="186.8" y2="377.3" stroke="#000" stroke-width="1.6"/>
<line x1="224.3" y1="372.8" x2="224.3" y2="375.8" stroke="#000" stroke-width="1.6"/>
<line x1="261.8" y1="372.8" x2="261.8" y2="377.3" stroke="#000" stroke-width="1.6"/>
<line x1="299.3" y1="372.8" x2="299.3" y2="375.8" stroke="#000" stroke-width="1.6"/>
<line x1="336.8" y1="372.8" x2="336.8" y2="377.3" stroke="#000" stroke-width="1.6"/>
<text x="186.8" y="394.5" font-family="Liberation Sans, sans-serif" font-size="20.5" text-anchor="middle">0</text>
<text x="261.8" y="394.5" font-family="Liberation Sans, sans-serif" font-size="20.5" text-anchor="middle">1</text>
<text x="336.8" y="394.5" font-family="Liberation Sans, sans-serif" font-size="20.5" text-anchor="middle">2</text>
<g fill="none" stroke-width="1.8" stroke-linejoin="miter">
<path d="M341.3,330 L341.3,356" stroke="#000"/>
<path d="M187,330 L187,308.3 L265.4,308.3 L265.6,229 L341.3,236.5 L341.3,346 M341.3,308.6 L373.8,308.6" stroke="#0000ff"/>
</g>
<ellipse cx="339.4" cy="332.6" rx="14.9" ry="32.7" fill="none" stroke="#000" stroke-width="1.6" stroke-dasharray="5.5,3"/>
<line x1="338.5" y1="365" x2="423" y2="365" stroke="#000" stroke-width="1.8"/>
<polyline points="414.7,360.3 423.5,365 414.7,369.7" fill="none" stroke="#000" stroke-width="1.8"/>
<text x="644" y="145" font-family="Liberation Serif, serif" font-size="31" textLength="353.5" lengthAdjust="spacingAndGlyphs">Reverse recovery parameters</text>
<line x1="676" y1="280" x2="676" y2="196" stroke="#000" stroke-width="2.5"/>
<polygon points="676,188.3 672.6,197.5 679.4,197.5" fill="#000"/>
<line x1="674.8" y1="280" x2="983" y2="280" stroke="#000" stroke-width="2.5"/>
<polygon points="991,280 982,276.8 982,283.2" fill="#000"/>
<text x="992.5" y="285" font-family="Liberation Serif, serif" font-style="italic" font-size="17">t</text>
<defs><pattern id="hatch" patternUnits="userSpaceOnUse" width="5.1" height="5.1" patternTransform="rotate(-45)"><line x1="0" y1="0" x2="0" y2="5.1" stroke="#5a5a5a" stroke-width="1"/></pattern>
<clipPath id="hc"><rect x="790" y="280" width="67.4" height="60"/></clipPath></defs>
<path d="M791.60,279.80 C792.20,281.12 793.97,284.78 795.20,287.70 C796.43,290.62 797.73,294.12 799.00,297.30 C800.27,300.48 801.53,303.73 802.80,306.80 C804.07,309.87 805.33,312.95 806.60,315.70 C807.87,318.45 809.12,320.97 810.40,323.30 C811.68,325.63 813.02,328.00 814.30,329.70 C815.58,331.40 816.73,332.63 818.10,333.50 C819.47,334.37 821.02,334.85 822.50,334.90 C823.98,334.95 825.67,334.45 827.00,333.80 C828.33,333.15 829.35,332.32 830.50,331.00 C831.65,329.68 832.70,328.02 833.90,325.90 C835.10,323.78 836.43,320.85 837.70,318.30 C838.97,315.75 840.22,312.93 841.50,310.60 C842.78,308.27 843.92,306.52 845.40,304.30 C846.88,302.08 848.72,299.43 850.40,297.30 C852.08,295.17 853.80,293.10 855.50,291.50 C857.20,289.90 858.68,288.87 860.60,287.70 C862.52,286.53 864.88,285.38 867.00,284.50 C869.12,283.62 871.18,282.97 873.30,282.40 C875.42,281.83 877.57,281.45 879.70,281.10 C881.83,280.75 883.55,280.48 886.10,280.30 C888.65,280.12 891.85,280.05 895.00,280.00 C898.15,279.95 903.33,280.00 905.00,280.00 L905,280 Z" fill="url(#hatch)" clip-path="url(#hc)"/>
<path d="M676,223 L768.8,223 L791.60,279.80 C792.20,281.12 793.97,284.78 795.20,287.70 C796.43,290.62 797.73,294.12 799.00,297.30 C800.27,300.48 801.53,303.73 802.80,306.80 C804.07,309.87 805.33,312.95 806.60,315.70 C807.87,318.45 809.12,320.97 810.40,323.30 C811.68,325.63 813.02,328.00 814.30,329.70 C815.58,331.40 816.73,332.63 818.10,333.50 C819.47,334.37 821.02,334.85 822.50,334.90 C823.98,334.95 825.67,334.45 827.00,333.80 C828.33,333.15 829.35,332.32 830.50,331.00 C831.65,329.68 832.70,328.02 833.90,325.90 C835.10,323.78 836.43,320.85 837.70,318.30 C838.97,315.75 840.22,312.93 841.50,310.60 C842.78,308.27 843.92,306.52 845.40,304.30 C846.88,302.08 848.72,299.43 850.40,297.30 C852.08,295.17 853.80,293.10 855.50,291.50 C857.20,289.90 858.68,288.87 860.60,287.70 C862.52,286.53 864.88,285.38 867.00,284.50 C869.12,283.62 871.18,282.97 873.30,282.40 C875.42,281.83 877.57,281.45 879.70,281.10 C881.83,280.75 883.55,280.48 886.10,280.30 C888.65,280.12 891.85,280.05 895.00,280.00 C898.15,279.95 903.33,280.00 905.00,280.00" fill="none" stroke="#000" stroke-width="2.6" stroke-linejoin="miter"/>
<line x1="768.8" y1="224" x2="768.8" y2="289" stroke="#000" stroke-width="1.5" stroke-dasharray="1.7,2.3" fill="none"/>
<line x1="791.8" y1="222" x2="791.8" y2="289" stroke="#000" stroke-width="1.5" stroke-dasharray="1.7,2.3" fill="none"/>
<line x1="857.5" y1="222" x2="857.5" y2="323.5" stroke="#000" stroke-width="1.5" stroke-dasharray="1.7,2.3" fill="none"/>
<line x1="823" y1="280" x2="823" y2="336" stroke="#000" stroke-width="1.5" stroke-dasharray="1.7,2.3" fill="none"/>
<line x1="824" y1="335.5" x2="838" y2="335.5" stroke="#000" stroke-width="1.5" stroke-dasharray="1.7,2.3" fill="none"/>
<line x1="725" y1="228" x2="725" y2="275" stroke="#000" stroke-width="1.5"/>
<polygon points="725,224.5 722.6,233 727.4,233" fill="#000"/>
<polygon points="725,278.6 722.6,270 727.4,270" fill="#000"/>
<line x1="795" y1="231.7" x2="806.2" y2="231.7" stroke="#8a8a8a" stroke-width="1.3"/>
<polygon points="792.3,231.7 796.8,230 796.8,233.4" fill="#222"/>
<line x1="848" y1="231.7" x2="854" y2="231.7" stroke="#8a8a8a" stroke-width="1.3"/>
<polygon points="857,231.7 852.5,230 852.5,233.4" fill="#222"/>
<path d="M875.3,303.2 Q868.5,300 864,295" fill="none" stroke="#000" stroke-width="1.5"/>
<polygon points="861.9,292.6 867.4,295.2 864.2,298" fill="#000"/>
<text x="810.6" y="229.4" font-family="Liberation Sans, sans-serif" font-weight="bold" font-size="23.3" textLength="30.2" lengthAdjust="spacingAndGlyphs">Trr</text>
<text x="684" y="313.8" font-family="Liberation Sans, sans-serif" font-weight="bold" font-size="23.2" textLength="108.5" lengthAdjust="spacingAndGlyphs">Qrr = Area</text>
<text x="842.8" y="349.3" font-family="Liberation Sans, sans-serif" font-weight="bold" font-size="23.5" textLength="24" lengthAdjust="spacingAndGlyphs">Irr</text>
<text x="881" y="322.7" font-family="Liberation Sans, sans-serif" font-weight="bold" font-size="23.2" textLength="105.5" lengthAdjust="spacingAndGlyphs">25% of Irr</text>
<text transform="translate(663.9,280.5) rotate(-90)" font-family="Liberation Sans, sans-serif" font-weight="bold" font-size="25" textLength="106" lengthAdjust="spacingAndGlyphs">Q2_Idrain</text>
</svg>
</body></html>
